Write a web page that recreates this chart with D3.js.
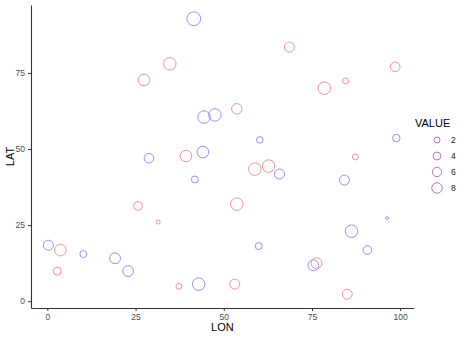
<!DOCTYPE html>
<html>
<head>
<meta charset="utf-8">
<script src="https://cdn.jsdelivr.net/npm/d3@7"></script>
<style>
  body { margin: 0; background: #fff; }
  svg { display: block; font-family: "Liberation Sans", Arial, sans-serif; }
</style>
</head>
<body>
<svg id="viewBox" width="474" height="338"></svg>
<script>
'use strict'

// point data
const lon = [41.5, 68.6, 34.7, 27.4, 84.5, 98.6, 78.5, 44.4, 47.5, 53.7,
    60.2, 98.9, 28.8, 39.3, 44.1, 87.3, 41.8, 58.8, 62.7, 65.8,
    84.2, 25.7, 53.7, 31.4, 96.3, 86.2, 0.3, 3.7, 10.2, 19.2,
    22.9, 2.8, 59.9, 75.4, 76.3, 90.7, 37.3, 42.9, 53.1, 85.0]
const lat = [92.8, 83.5, 78.0, 72.7, 72.4, 77.0, 70.0, 60.5, 61.2, 63.2,
    53.0, 53.6, 47.0, 47.7, 49.0, 47.4, 40.0, 43.4, 44.4, 41.8,
    39.8, 31.3, 31.9, 26.0, 27.3, 23.0, 18.4, 16.8, 15.5, 14.1,
    9.9, 9.9, 18.1, 11.8, 12.5, 16.8, 4.9, 5.6, 5.6, 2.3]
const value = [15.0, 7.1, 12.0, 10.0, 1.9, 6.5, 12.0, 12.0, 12.0, 8.0,
    2.5, 3.5, 6.5, 10.0, 10.0, 1.9, 2.9, 12.0, 12.0, 7.1,
    7.1, 5.0, 12.0, 0.6, 0.2, 12.0, 7.1, 10.0, 2.9, 8.5,
    8.5, 4.1, 2.9, 8.5, 8.5, 5.0, 1.9, 12.0, 7.1, 7.1]
const group = ['b', 'r', 'r', 'r', 'r', 'r', 'r', 'b', 'b', 'r',
    'b', 'b', 'b', 'r', 'b', 'r', 'b', 'r', 'r', 'b',
    'b', 'r', 'r', 'r', 'b', 'b', 'b', 'r', 'b', 'b',
    'b', 'r', 'b', 'b', 'r', 'b', 'r', 'b', 'r', 'r']

const xTicks = [0, 25, 50, 75, 100]
const yTicks = [0, 25, 50, 75]
const legendValues = [2, 4, 6, 8]

const points = lon.map((d, i) => ({ lon: d, lat: lat[i], value: value[i], group: group[i] }))

const expand = (arr) => {
    const [lo, hi] = d3.extent(arr)
    const pad = (hi - lo) * 0.05
    return [lo - pad, hi + pad]
}

const panelLeft = 31
const panelRight = 413.7
const panelTop = 5
const panelBottom = 308

const x = d3.scaleLinear().domain(expand(lon)).range([panelLeft, panelRight])
const y = d3.scaleLinear().domain(expand(lat)).range([panelBottom, panelTop])
const r = d3.scaleSqrt().domain([0, 15]).range([0.8, 6.9])
const color = d3.scaleOrdinal().domain(['r', 'b']).range(['#ee9494', '#9393ee'])

const svg = d3.select('#viewBox')

svg.append('g')
    .selectAll('circle')
    .data(points)
    .join('circle')
    .attr('cx', d => x(d.lon))
    .attr('cy', d => y(d.lat))
    .attr('r', d => r(d.value))
    .attr('fill', 'none')
    .attr('stroke', d => color(d.group))
    .attr('stroke-width', 1)

const xAxis = svg.append('g')
    .attr('transform', `translate(0,${panelBottom})`)
    .call(d3.axisBottom(x).tickValues(xTicks).tickSize(3).tickPadding(3).tickSizeOuter(0))
const yAxis = svg.append('g')
    .attr('transform', `translate(${panelLeft},0)`)
    .call(d3.axisLeft(y).tickValues(yTicks).tickSize(3).tickPadding(3).tickSizeOuter(0))

for (const ax of [xAxis, yAxis]) {
    ax.select('.domain').attr('stroke', '#333').attr('stroke-width', 1.1)
    ax.selectAll('.tick line').attr('stroke', '#333')
    ax.selectAll('.tick text').attr('fill', '#4d4d4d').style('font-size', '8.5px')
}

svg.append('text')
    .attr('x', (panelLeft + panelRight) / 2)
    .attr('y', 331)
    .attr('text-anchor', 'middle')
    .style('font-size', '11px')
    .text('LON')

svg.append('text')
    .attr('transform', `translate(14,${(panelTop + panelBottom) / 2}) rotate(-90)`)
    .attr('text-anchor', 'middle')
    .style('font-size', '11px')
    .text('LAT')

// size legend
const legend = svg.append('g')
legend.append('text')
    .attr('x', 415)
    .attr('y', 127)
    .style('font-size', '11px')
    .text('VALUE')

const legendY = d3.scalePoint().domain(legendValues).range([140, 188])
const item = legend.selectAll('g.item')
    .data(legendValues)
    .join('g')
    .attr('class', 'item')
    .attr('transform', d => `translate(437,${legendY(d)})`)
item.append('circle')
    .attr('r', d => r(d))
    .attr('fill', 'none')
    .attr('stroke', '#b57ab8')
    .attr('stroke-width', 1)
item.append('text')
    .attr('x', 14)
    .attr('dy', '0.35em')
    .style('font-size', '8.5px')
    .attr('fill', '#222')
    .text(d => d)
</script>
</body>
</html>
